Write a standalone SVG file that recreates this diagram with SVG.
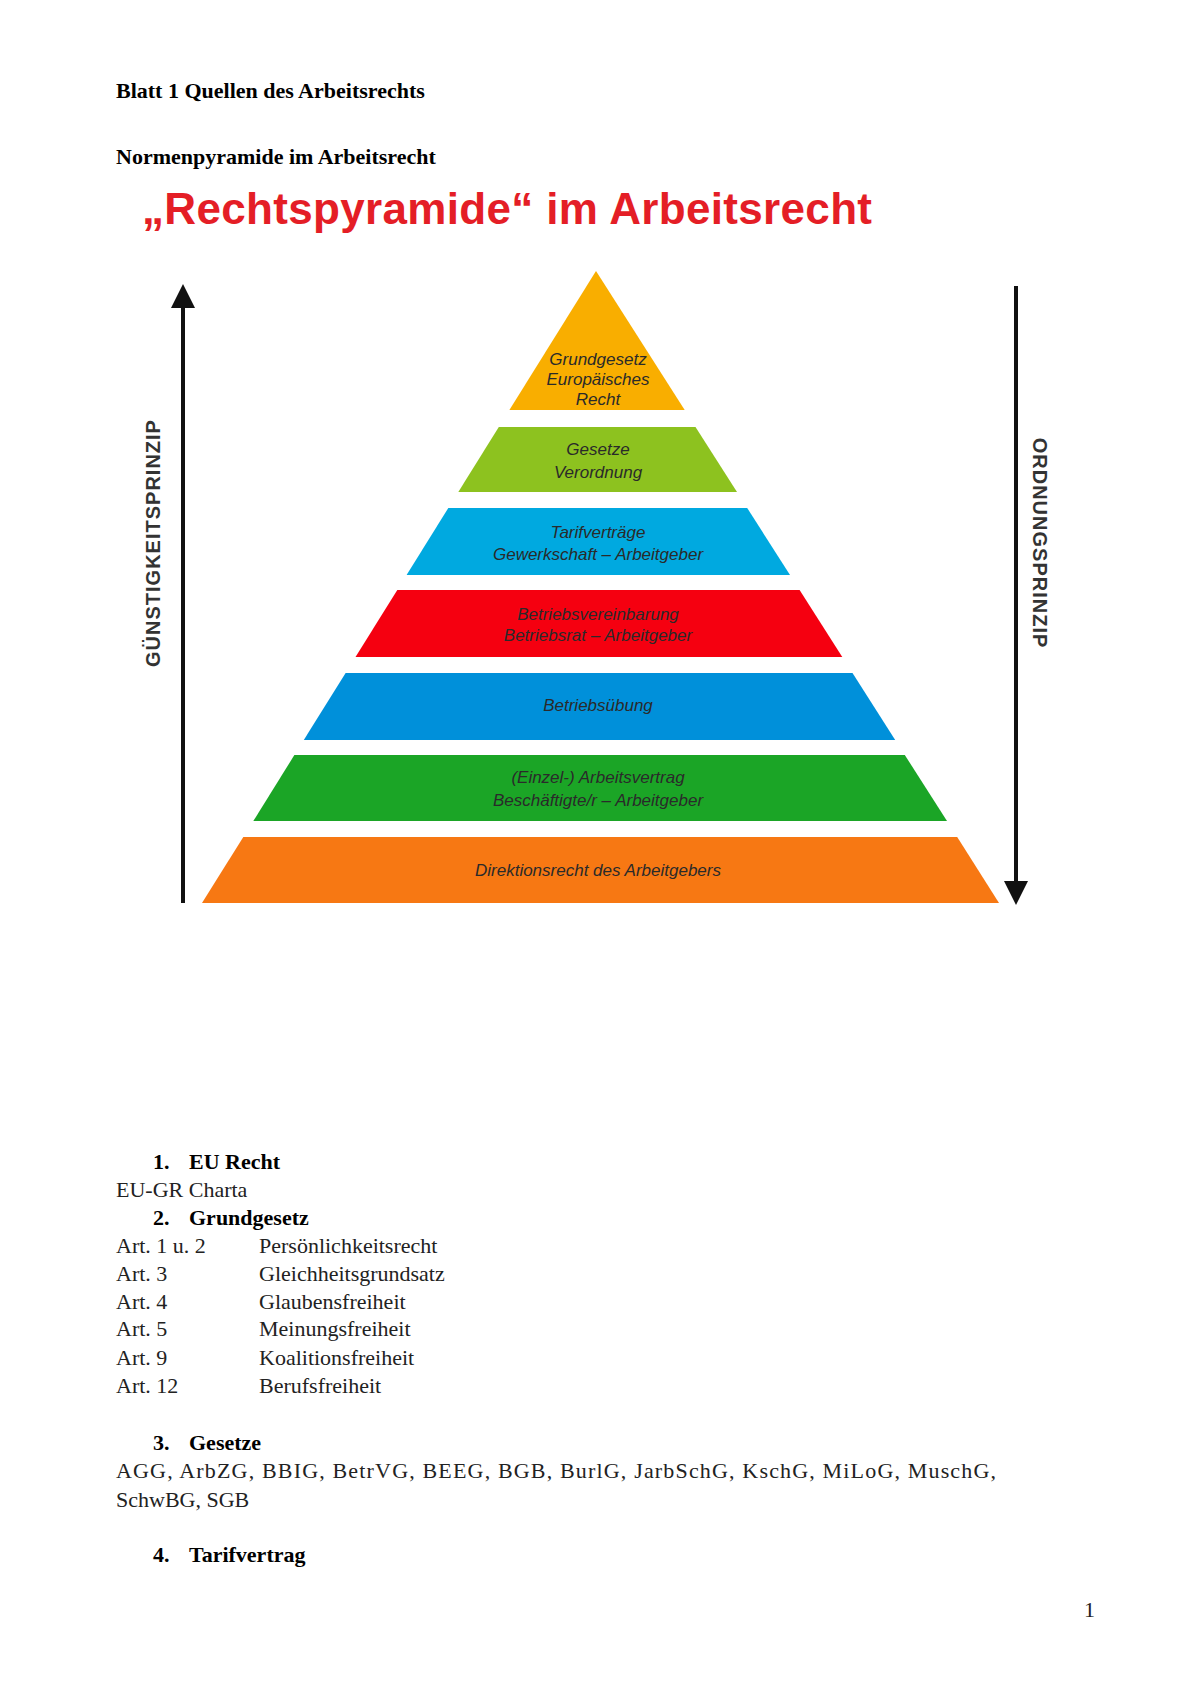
<svg xmlns="http://www.w3.org/2000/svg" width="1200" height="1698" viewBox="0 0 1200 1698">
<style>
.h{font-family:"Liberation Serif",serif;font-weight:bold;font-size:22px;fill:#000}
.t{font-family:"Liberation Serif",serif;font-size:22px;fill:#222}
.b{font-family:"Liberation Serif",serif;font-weight:bold;font-size:22px;fill:#000}
.p{font-family:"Liberation Sans",Arial,sans-serif;font-style:italic;font-size:17px;text-anchor:middle;fill:#2a2a2a}
.v{font-family:"Liberation Sans",Arial,sans-serif;font-weight:bold;font-size:20px;text-anchor:middle;fill:#333;letter-spacing:1px}
</style>
<defs>
<marker id="ah" viewBox="0 0 10 10" refX="5" refY="5" markerWidth="6" markerHeight="6" orient="auto-start-reverse"><path d="M0,0 L10,5 L0,10 z" fill="#111"/></marker>
</defs>
<rect width="1200" height="1698" fill="#fff"/>
<text class="h" x="116" y="98">Blatt 1 Quellen des Arbeitsrechts</text>
<text class="h" x="116" y="164">Normenpyramide im Arbeitsrecht</text>
<text x="142" y="224" font-family="Liberation Sans,Arial,sans-serif" font-weight="bold" font-size="44" fill="#e41e26" textLength="730">„Rechtspyramide“ im Arbeitsrecht</text>
<g id="connectors">
<line x1="183" y1="903" x2="183" y2="296" stroke="#111" stroke-width="4" marker-end="url(#ah)"/>
<line x1="1016" y1="286" x2="1016" y2="893" stroke="#111" stroke-width="4" marker-end="url(#ah)"/>
</g>
<text class="v" transform="translate(160,543) rotate(-90)">GÜNSTIGKEITSPRINZIP</text>
<text class="v" transform="translate(1033,543) rotate(90)">ORDNUNGSPRINZIP</text>
<g id="l1"><polygon points="596,271 684.7,410 509.4,410" fill="#f9ae00"/><text class="p" x="598" y="365">Grundgesetz</text><text class="p" x="598" y="385">Europäisches</text><text class="p" x="598" y="405">Recht</text></g>
<g id="l2"><polygon points="498.8,427 695.5,427 737,492 458.3,492" fill="#8dc21f"/><text class="p" x="598" y="455">Gesetze</text><text class="p" x="598" y="478">Verordnung</text></g>
<g id="l3"><polygon points="448.3,508 747.2,508 790,575 406.6,575" fill="#00a9e0"/><text class="p" x="598" y="538" fill="#243a66">Tarifverträge</text><text class="p" x="598" y="560" fill="#243a66">Gewerkschaft – Arbeitgeber</text></g>
<g id="l4"><polygon points="397.3,590 799.6,590 842.3,657 355.5,657" fill="#f50010"/><text class="p" x="598" y="620" fill="#5a1010">Betriebsvereinbarung</text><text class="p" x="598" y="641" fill="#5a1010">Betriebsrat – Arbeitgeber</text></g>
<g id="l5"><polygon points="345.6,673 852.5,673 895.2,740 303.8,740" fill="#0090da"/><text class="p" x="598" y="711" fill="#1a2f5e">Betriebsübung</text></g>
<g id="l6"><polygon points="294.4,755 904.8,755 947,821 253.3,821" fill="#1ba526"/><text class="p" x="598" y="783">(Einzel-) Arbeitsvertrag</text><text class="p" x="598" y="806">Beschäftigte/r – Arbeitgeber</text></g>
<g id="l7"><polygon points="243.3,837 957.2,837 999,903 202,903" fill="#f77813"/><text class="p" x="598" y="876">Direktionsrecht des Arbeitgebers</text></g>
<text class="b" x="153" y="1169">1.</text><text class="b" x="189" y="1169">EU Recht</text>
<text class="t" x="116" y="1197">EU-GR Charta</text>
<text class="b" x="153" y="1225">2.</text><text class="b" x="189" y="1225">Grundgesetz</text>
<text class="t" x="116" y="1253">Art. 1 u. 2</text><text class="t" x="259" y="1253">Persönlichkeitsrecht</text>
<text class="t" x="116" y="1281">Art. 3</text><text class="t" x="259" y="1281">Gleichheitsgrundsatz</text>
<text class="t" x="116" y="1309">Art. 4</text><text class="t" x="259" y="1309">Glaubensfreiheit</text>
<text class="t" x="116" y="1336">Art. 5</text><text class="t" x="259" y="1336">Meinungsfreiheit</text>
<text class="t" x="116" y="1365">Art. 9</text><text class="t" x="259" y="1365">Koalitionsfreiheit</text>
<text class="t" x="116" y="1393">Art. 12</text><text class="t" x="259" y="1393">Berufsfreiheit</text>
<text class="b" x="153" y="1450">3.</text><text class="b" x="189" y="1450">Gesetze</text>
<text class="t" x="116" y="1478" textLength="880">AGG, ArbZG, BBIG, BetrVG, BEEG, BGB, BurlG, JarbSchG, KschG, MiLoG, MuschG,</text>
<text class="t" x="116" y="1507">SchwBG, SGB</text>
<text class="b" x="153" y="1562">4.</text><text class="b" x="189" y="1562">Tarifvertrag</text>
<text class="t" x="1084" y="1617">1</text>
</svg>
